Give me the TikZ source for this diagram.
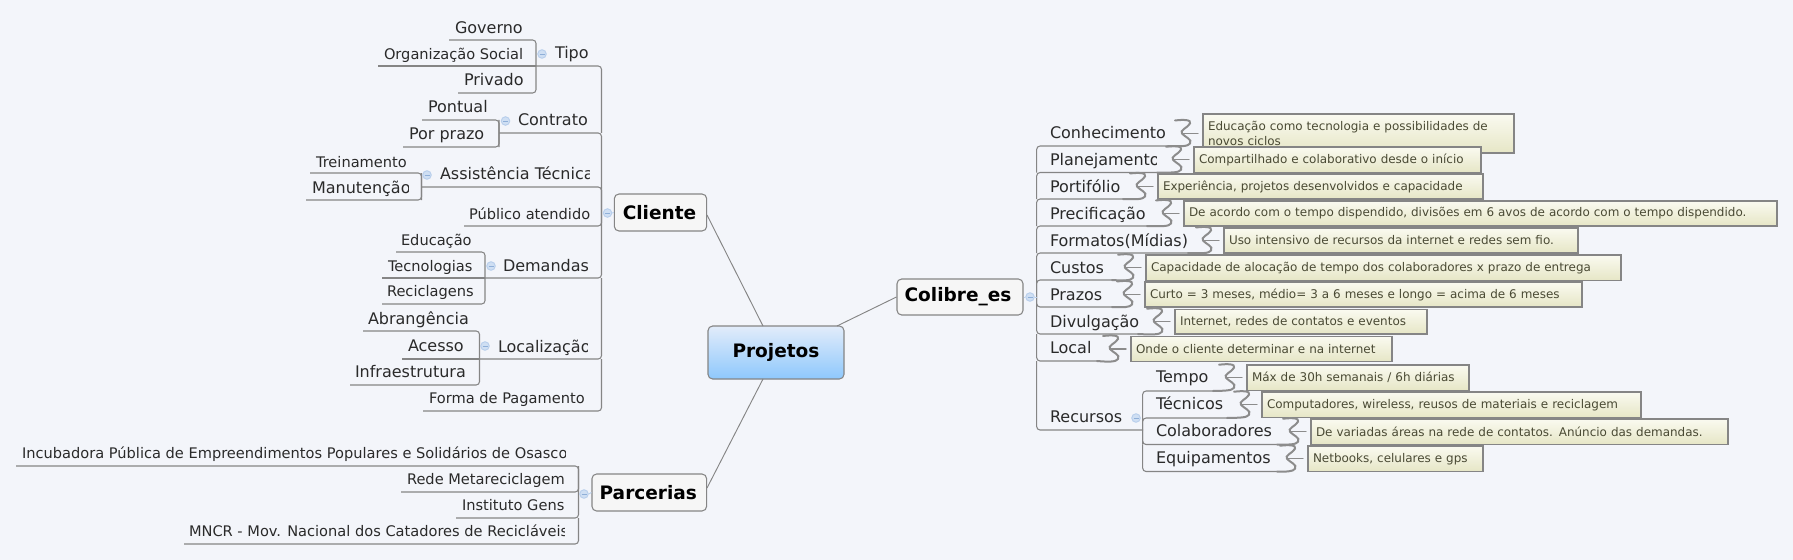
\documentclass[tikz,border=0pt]{standalone}
\usepackage{fontspec}
\setmainfont{DejaVu Sans}
\definecolor{bgc}{HTML}{F3F5FA}
\definecolor{linec}{HTML}{858585}
\definecolor{wavec}{HTML}{8C8C8C}
\definecolor{txtc}{HTML}{2A2A2A}
\definecolor{notetxt}{HTML}{4A4A34}
\definecolor{notetop}{HTML}{FAFAF0}
\definecolor{notebot}{HTML}{E6E6C6}
\definecolor{roottop}{HTML}{E2ECFA}
\definecolor{rootbot}{HTML}{8EC8FC}
\definecolor{mainfill}{HTML}{F6F6F6}
\definecolor{colfill}{HTML}{CFDFF3}
\definecolor{coldraw}{HTML}{B9CFEC}
\definecolor{colminus}{HTML}{8FAFD8}
\tikzset{
  x=0.75pt, y=-0.75pt,
  lineb/.style={draw=linec, line width=0.8pt, rounded corners=2.5pt},
  conn/.style={draw=linec, line width=0.7pt},
  topicnode/.style={text=txtc, inner sep=0pt, outer sep=0pt, anchor=base west},
  notebox/.style={draw=linec, line width=0.8pt, top color=notetop, bottom color=notebot, text=notetxt,
     font=\fontsize{8.97}{11.25}\selectfont, inner xsep=3.75pt, inner ysep=0pt, outer sep=0pt, anchor=north west, align=left},
  mainnode/.style={draw=linec, line width=0.8pt, rounded corners=3.5pt, fill=mainfill, font=\bfseries\fontsize{13.9}{16}\selectfont, text=black, inner sep=0pt},
  rootnode/.style={mainnode, top color=roottop, bottom color=rootbot},
  collapse/.style={circle, draw=coldraw, fill=colfill, line width=0.7pt, minimum size=6.4pt, inner sep=0pt},
  colline/.style={draw=coldraw, line width=0.7pt},
  wavy/.style={draw=wavec, line width=1.5pt, line cap=round},
}
% [baseline offset] name, line left, line right, line y, text x, clip x, text
\newcommand{\topic}[8][7]{%
  \coordinate (#2-l) at (#3,#5);
  \coordinate (#2-r) at (#4,#5);
  \begin{scope}
    \clip (#6-2,#5-24) rectangle (#7,#5);
    \node[topicnode, font=\fontsize{12}{14}\selectfont] (#2) at (#6,#5-#1) {#8};
  \end{scope}
}
\newcommand{\topicsmall}[8][7]{%
  \coordinate (#2-l) at (#3,#5);
  \coordinate (#2-r) at (#4,#5);
  \begin{scope}
    \clip (#6-2,#5-24) rectangle (#7,#5);
    \node[topicnode, font=\fontsize{10.95}{13}\selectfont] (#2) at (#6,#5-#1) {#8};
  \end{scope}
}
% name, x1, x2, y1, y2, text
\newcommand{\note}[6]{%
  \pgfmathsetmacro{\nw}{(#3-#2-10)*0.75}%
  \pgfmathsetmacro{\nh}{(#5-#4)*0.75}%
  \node[notebox, text width=\nw pt, minimum height=\nh pt] (#1) at (#2,#4) {#6};
}
% topic, note
\newcommand{\wavelink}[2]{%
  \begin{scope}[shift={(#2.west)}]
    \draw[wavy] (-28,-13) .. controls (-20,-14) and (-11,-14) .. (-13,-10)
       .. controls (-15,-6) and (-24,-3) .. (-21,0)
       .. controls (-19,3) and (-10,6) .. (-13,10)
       .. controls (-15,13) and (-22,13) .. (#1-r);
    \draw[wavy, line width=1pt] (-21,0) -- (-5,0);
  \end{scope}
}
% name, x, y
\newcommand{\collapsemark}[3]{%
  \node[collapse] (#1) at (#2,#3) {};
  \draw[draw=colminus, line width=0.5pt] (#2-2.5,#3) -- (#2+2.5,#3);
}
\begin{document}
\begin{tikzpicture}
\useasboundingbox (0,0) rectangle (1793,560);
\fill[bgc] (0,0) rectangle (1793,560);

% main nodes
\node[rootnode, minimum width=102pt, minimum height=39.75pt] (root) at (776,352.5) {Projetos};
\node[mainnode, minimum width=69.3pt, minimum height=27.75pt] (cliente) at (660.5,212.5) {Cliente\hspace*{1.5pt}};
\node[mainnode, minimum width=86pt, minimum height=27.75pt] (parcerias) at (649.3,492.5) {Parcerias\hspace*{1.5pt}};
\node[mainnode, minimum width=94.5pt, minimum height=27pt] (colibre) at (960,297) {Colibre\_es\hspace*{3pt}};
\coordinate (rootA) at (763,326);
\coordinate (rootB) at (837,326);
\coordinate (rootC) at (763,379);
\coordinate (clienteP) at (707,215);
\coordinate (parceriasP) at (707,488);
\draw[conn] (rootA) -- (clienteP);
\draw[conn] (rootB) -- (colibre.west);
\draw[conn] (rootC) -- (parceriasP);

% Cliente branch
\topic{tipo}{536}{601.5}{66}{555}{5000}{Tipo}
\topic{contrato}{499}{601.5}{133}{518}{588}{Contrato}
\topic{assist}{421.5}{601.5}{187}{440}{589}{Assistência Técnica}
\topicsmall{publico}{464}{601.5}{226}{469}{590}{Público atendido}
\topic{demandas}{485}{601.5}{278}{503}{589}{Demandas}
\topic{local}{403}{601.5}{359}{498}{587}{Localização}
\topicsmall[8]{forma}{423}{601.5}{411}{429}{5000}{Forma de Pagamento}
\draw[lineb] (tipo-l) -- (tipo-r) -- (contrato-r);
\draw[lineb] (contrato-l) -- (contrato-r) -- (assist-r);
\draw[lineb] (assist-l) -- (assist-r) -- (publico-r);
\draw[lineb] (publico-l) -- (publico-r) -- (assist-r);
\draw[lineb] (demandas-l) -- (demandas-r) -- (publico-r);
\draw[lineb] (local-l) -- (local-r) -- (demandas-r);
\draw[lineb] (forma-l) -- (forma-r) -- (local-r);
\collapsemark{c1}{607.5}{213}
\draw[colline] (c1.east) -- (cliente.west);

\topic[6]{governo}{449}{536}{40}{455}{5000}{Governo}
\topicsmall[6]{org}{378}{536}{66}{384}{5000}{Organização Social}
\topic{privado}{458}{536}{93}{464}{5000}{Privado}
\draw[lineb] (governo-l) -- (governo-r) -- (org-r);
\draw[lineb] (org-l) -- (org-r);
\draw[lineb] (privado-l) -- (privado-r) -- (org-r);
\collapsemark{c2}{542}{54}

\topic{pontual}{422}{499}{120}{428}{5000}{Pontual}
\topic{porprazo}{403}{499}{147}{409}{5000}{Por prazo}
\draw[lineb] (pontual-l) -- (pontual-r) -- (porprazo-r);
\draw[lineb] (porprazo-l) -- (porprazo-r) -- (pontual-r);
\collapsemark{c3}{505.5}{121}

\topicsmall[6]{trein}{310}{421.5}{173}{316}{5000}{Treinamento}
\topic{manut}{306}{421.5}{200}{312}{408}{Manutenção}
\draw[lineb] (trein-l) -- (trein-r) -- (manut-r);
\draw[lineb] (manut-l) -- (manut-r) -- (trein-r);
\collapsemark{c4}{427}{175}

\topicsmall{educ}{396}{485}{252}{401}{5000}{Educação}
\topicsmall{tecn}{382}{485}{278}{388}{5000}{Tecnologias}
\topicsmall[8]{recic}{382}{485}{304}{387}{5000}{Reciclagens}
\draw[lineb] (educ-l) -- (educ-r) -- (tecn-r);
\draw[lineb] (tecn-l) -- (tecn-r);
\draw[lineb] (recic-l) -- (recic-r) -- (tecn-r);
\collapsemark{c5}{491}{266}

\topic{abrang}{363}{479.5}{331}{368}{5000}{Abrangência}
\topic[8]{acesso}{402}{479.5}{359}{408}{5000}{Acesso}
\topic[8]{infra}{350}{479.5}{385}{355}{5000}{Infraestrutura}
\draw[lineb] (abrang-l) -- (abrang-r) -- (acesso-r);
\draw[lineb] (acesso-l) -- (acesso-r);
\draw[lineb] (infra-l) -- (infra-r) -- (acesso-r);
\collapsemark{c6}{485}{346}

% Parcerias branch
\topicsmall[8]{incub}{16}{578.5}{466}{22}{565}{Incubadora Pública de Empreendimentos Populares e Solidários de Osasco}
\topicsmall[8]{rede}{401}{578.5}{492}{407}{567}{Rede Metareciclagem}
\topicsmall[8]{gens}{456}{578.5}{518}{462}{5000}{Instituto Gens}
\topicsmall[8]{mncr}{184}{578.5}{544}{189}{564}{MNCR - Mov. Nacional dos Catadores de Recicláveis}
\draw[lineb] (incub-l) -- (incub-r) -- (rede-r);
\draw[lineb] (rede-l) -- (rede-r) -- (incub-r);
\draw[lineb] (gens-l) -- (gens-r) -- (rede-r);
\draw[lineb] (mncr-l) -- (mncr-r) -- (gens-r);
\collapsemark{c7}{584}{494}
\draw[colline] (c7.east) -- (parcerias.west);

% Colibre branch
\topic[8]{conh}{1036.7}{1168}{146}{1050}{5000}{Conhecimento}
\topic{plan}{1036.7}{1157}{172.5}{1050}{1156}{Planejamento}
\topic{port}{1036.7}{1123}{199}{1050}{5000}{Portifólio}
\topic{prec}{1036.7}{1147}{226}{1050}{1145}{Precificação}
\topic{form}{1036.7}{1188}{253}{1050}{5000}{Formatos(Mídias)}
\topic{cust}{1036.7}{1112}{280}{1050}{5000}{Custos}
\topic{praz}{1036.7}{1112}{307}{1050}{5000}{Prazos}
\topic{divu}{1036.7}{1138}{334}{1050}{5000}{Divulgação}
\topic[8]{loca}{1036.7}{1097}{361}{1050}{5000}{Local}
\topic[8]{recu}{1036.7}{1143}{430}{1050}{5000}{Recursos}
\draw[lineb] (conh-r) -- (conh-l) -- (plan-l);
\draw[lineb] (plan-r) -- (plan-l) -- (port-l);
\draw[lineb] (port-r) -- (port-l) -- (prec-l);
\draw[lineb] (prec-r) -- (prec-l) -- (form-l);
\draw[lineb] (form-r) -- (form-l) -- (cust-l);
\draw[lineb] (cust-r) -- (cust-l) -- (praz-l);
\draw[lineb] (praz-r) -- (praz-l) -- (cust-l);
\draw[lineb] (divu-r) -- (divu-l) -- (praz-l);
\draw[lineb] (loca-r) -- (loca-l) -- (divu-l);
\draw[lineb] (recu-r) -- (recu-l) -- (loca-l);
\collapsemark{c8}{1030}{297}
\draw[colline] (colibre.east) -- (c8.west);
\coordinate (spinemid) at (1036.7,297);
\draw[colline] (c8.east) -- (spinemid);

\topic[9]{temp}{1142.7}{1213}{391}{1156}{5000}{Tempo}
\topic[9]{tecs}{1142.7}{1227}{418}{1156}{5000}{Técnicos}
\topic[8]{cola}{1142.7}{1277}{444.5}{1156}{5000}{Colaboradores}
\topic[8]{equi}{1142.7}{1277}{471.5}{1156}{5000}{Equipamentos}
\draw[lineb] (temp-r) -- (temp-l) -- (tecs-l);
\draw[lineb] (tecs-r) -- (tecs-l) -- (cola-l);
\draw[lineb] (cola-r) -- (cola-l) -- (tecs-l);
\draw[lineb] (equi-r) -- (equi-l) -- (cola-l);
\collapsemark{c9}{1136}{418}

% Notes
\note{n1}{1203}{1514}{114}{153}{Educação como tecnologia e possibilidades de\\novos ciclos}
\note{n2}{1194}{1481}{147}{172.5}{Compartilhado e colaborativo desde o início}
\note{n3}{1158}{1483}{174}{199}{Experiência, projetos desenvolvidos e capacidade}
\note{n4}{1184}{1777}{201}{226}{De acordo com o tempo dispendido, divisões em 6 avos de acordo com o tempo dispendido.}
\note{n5}{1224}{1578}{228}{253}{Uso intensivo de recursos da internet e redes sem fio.}
\note{n6}{1146}{1621}{255}{280.5}{Capacidade de alocação de tempo dos colaboradores x prazo de entrega}
\note{n7}{1145}{1582}{282}{307}{Curto = 3 meses, médio= 3 a 6 meses e longo = acima de 6 meses}
\note{n8}{1175}{1427}{309.5}{334}{Internet, redes de contatos e eventos}
\note{n9}{1131}{1392}{336.5}{361.5}{Onde o cliente determinar e na internet}
\note{n10}{1247}{1469}{365}{390.5}{Máx de 30h semanais / 6h diárias}
\note{n11}{1262}{1641}{392}{417.5}{Computadores, wireless, reusos de materiais e reciclagem}
\note{n12}{1311}{1728}{419}{444.5}{De variadas áreas na rede de contatos. Anúncio das demandas.}
\note{n13}{1308}{1483}{446}{471.5}{Netbooks, celulares e gps}
\wavelink{conh}{n1}
\wavelink{plan}{n2}
\wavelink{port}{n3}
\wavelink{prec}{n4}
\wavelink{form}{n5}
\wavelink{cust}{n6}
\wavelink{praz}{n7}
\wavelink{divu}{n8}
\wavelink{loca}{n9}
\wavelink{temp}{n10}
\wavelink{tecs}{n11}
\wavelink{cola}{n12}
\wavelink{equi}{n13}
\end{tikzpicture}
\end{document}
